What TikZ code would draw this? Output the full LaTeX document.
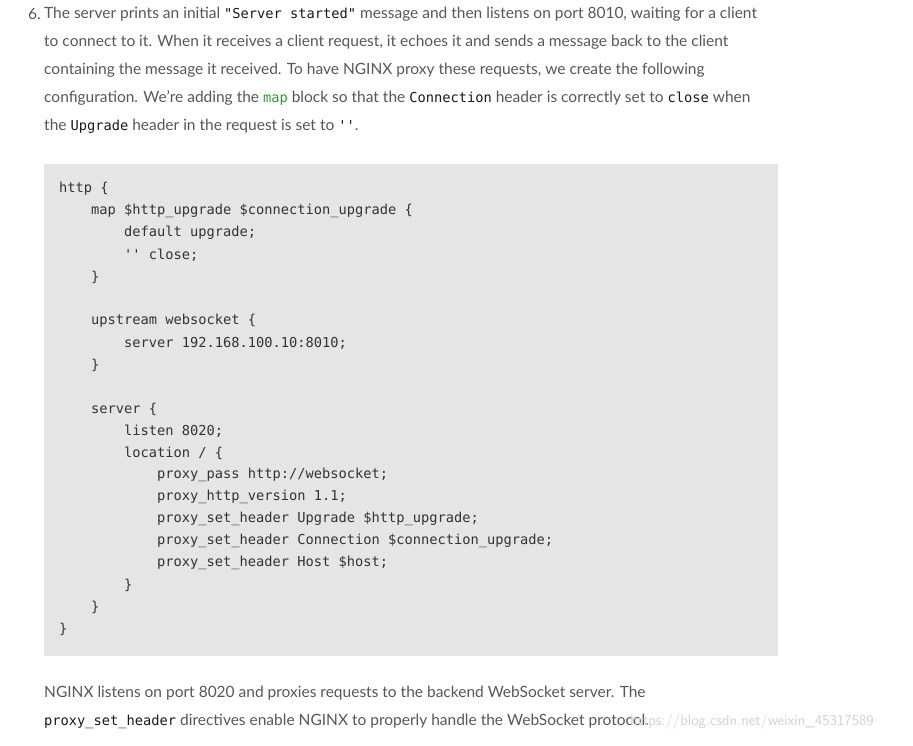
\documentclass[tikz,border=0pt]{standalone}
\usepackage{fontspec}
\setmainfont{Lato}
\setmonofont{DejaVu Sans Mono}
\begin{document}
\begin{tikzpicture}[x=1pt,y=-1pt,
  txt/.style={anchor=west,inner sep=0pt,text=black!66,font=\fontsize{15.5}{18}\selectfont},
  code/.style={anchor=west,inner sep=0pt,text=black!80,font=\ttfamily\fontsize{13.7}{16}\selectfont}]
\useasboundingbox[fill=white] (0,0) rectangle (913,745);
\newcommand\mc[1]{{\color{black!90}\ttfamily\fontsize{13.7}{16}\selectfont #1}}
\node[txt] (l0) at (28,14) {6.};
\node[txt] (l1) at (44,14) {The server prints an initial \mc{"Server started"} message and then listens on port 8010, waiting for a client};
\node[txt] (l2) at (44,42) {to connect to it. When it receives a client request, it echoes it and sends a message back to the client};
\node[txt] (l3) at (44,70) {containing the message it received. To have NGINX proxy these requests, we create the following};
\node[txt] (l4) at (44,98) {configuration. We’re adding the {\color{green!50!black!80}\ttfamily\fontsize{13.7}{16}\selectfont map} block so that the \mc{Connection} header is correctly set to \mc{close} when};
\node[txt] (l5) at (44,126) {the \mc{Upgrade} header in the request is set to \mc{''}.};
\fill[black!10] (44,164) rectangle (778,656);
\foreach \t/\x/\y in {
 {http \{}/59/189,
 {map \$http\_upgrade \$connection\_upgrade \{}/91/211,
 {default upgrade;}/124/233,
 {'' close;}/124/255,
 {\}}/91/277,
 {upstream websocket \{}/91/321,
 {server 192.168.100.10:8010;}/124/343,
 {\}}/91/365,
 {server \{}/91/409,
 {listen 8020;}/124/431,
 {location / \{}/124/453,
 {proxy\_pass http://websocket;}/157/475,
 {proxy\_http\_version 1.1;}/157/497,
 {proxy\_set\_header Upgrade \$http\_upgrade;}/157/519,
 {proxy\_set\_header Connection \$connection\_upgrade;}/157/541,
 {proxy\_set\_header Host \$host;}/157/563,
 {\}}/124/585,
 {\}}/91/607,
 {\}}/59/629}
 \node[code] at (\x,\y) {\t};
\node[txt] (b1) at (44,693) {NGINX listens on port 8020 and proxies requests to the backend WebSocket server. The};
\node[txt] (b2) at (44,721) {\mc{proxy\_set\_header} directives enable NGINX to properly handle the WebSocket protocol.};
\node[anchor=west,inner sep=0pt,text=black!18,font=\sffamily\fontsize{15}{18}\selectfont] (wm) at (630,722) {https://blog.csdn.net/weixin\_45317589};
\end{tikzpicture}
\end{document}
